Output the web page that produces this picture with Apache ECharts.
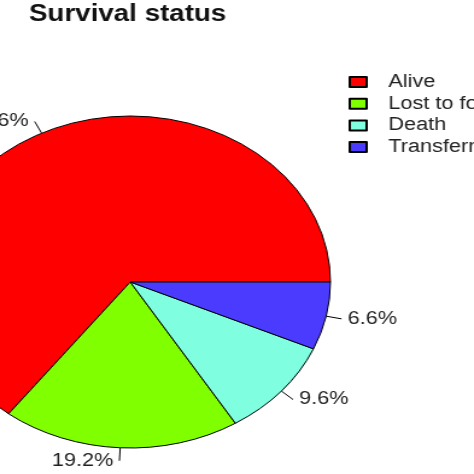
<!DOCTYPE html>
<html>
<head>
<meta charset="utf-8">
<script src="https://cdn.jsdelivr.net/npm/echarts@6/dist/echarts.min.js"></script>
<style>
    html, body { margin: 0; padding: 0; background: #fff; overflow: hidden; }
    /* the reference is stretched sideways, so draw narrow and widen it */
    #main { width: 393px; height: 474px; transform: scaleX(1.206); transform-origin: 0 0; }
</style>
</head>
<body>
<div id="main"></div>
<script>
const statusNames = ['Alive', 'Lost to follow-up', 'Death', 'Transferred out'];
const percents = [64.6, 19.2, 9.6, 6.6];
const sliceColors = ['#ff0000', '#80ff00', '#7fffe0', '#4b3bff'];

const chartDom = document.getElementById('main');
const myChart = echarts.init(chartDom);

const datas = statusNames.map((name, i) => ({
    name: name,
    value: percents[i],
    itemStyle: { color: sliceColors[i] }
}));

const option = {
    animation: false,
    textStyle: { fontFamily: 'Liberation Sans, Arial, sans-serif' },
    title: {
        text: 'Survival status',
        left: 19,
        top: -2,
        textStyle: { fontSize: 23, fontWeight: 'bold', color: '#111' }
    },
    legend: {
        orient: 'vertical',
        left: 289,
        top: 73,
        padding: 0,
        itemWidth: 14,
        itemHeight: 10,
        itemGap: 3.7,
        icon: 'rect',
        textStyle: { fontSize: 18, lineHeight: 18, color: '#222', padding: [0, 0, 0, 13] },
        data: statusNames
    },
    series: [
        {
            name: 'Survival status',
            type: 'pie',
            center: [108, 282],
            radius: 166,
            startAngle: 0,
            clockwise: false,
            avoidLabelOverlap: false,
            itemStyle: { borderColor: '#000', borderWidth: 1 },
            label: {
                show: true,
                position: 'outside',
                formatter: (p) => p.value.toFixed(1) + '%',
                fontSize: 18,
                color: '#222',
                distanceToLabelLine: 5
            },
            labelLine: {
                show: true,
                length: 13,
                length2: 0,
                lineStyle: { color: '#000', width: 1 }
            },
            emphasis: { disabled: true },
            data: datas
        }
    ]
};

myChart.setOption(option);
</script>
</body>
</html>
